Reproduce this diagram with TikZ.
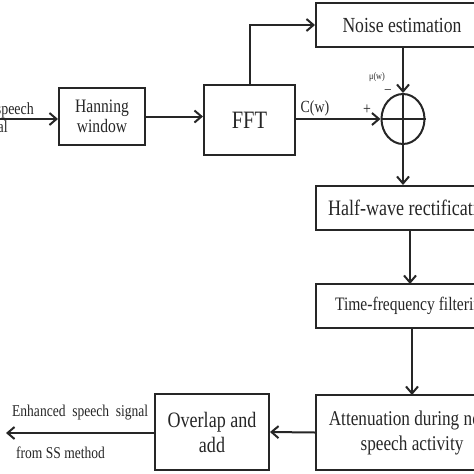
\documentclass[tikz,border=0pt]{standalone}
\usepackage{fontspec}
\setmainfont{Liberation Serif}[FakeStretch=0.82]
\usetikzlibrary{arrows.meta,shapes.geometric}
\begin{document}
\begin{tikzpicture}[x=1pt,y=-1pt,
  lw/.style={line width=2pt, draw=black!85},
  blk/.style={lw, inner sep=0pt, align=center, text=black!85},
  arr/.style={lw, -{Straight Barb[length=7pt,width=12pt]}},
  lab/.style={inner sep=0pt, text=black!85}]
\useasboundingbox (0,0) rectangle (474,474);
\clip (0,0) rectangle (474,474);
% blocks
\node[blk, minimum width=86pt, minimum height=57pt, font=\fontsize{19}{20}\selectfont] (hann) at (102,116.5) {Hanning\\window};
\node[blk, minimum width=91pt, minimum height=70pt, font=\fontsize{25}{26}\selectfont] (fft) at (249.5,120) {FFT};
\node[blk, minimum width=172pt, minimum height=44pt, font=\fontsize{21.5}{23}\selectfont] (noise) at (402,25) {Noise estimation};
\node[lw, ellipse, inner sep=0pt, minimum width=43pt, minimum height=50pt] (sum) at (403,119) {};
\node[blk, minimum width=192pt, minimum height=44pt, font=\fontsize{22}{23}\selectfont] (half) at (412,208) {Half-wave rectification};
\node[blk, minimum width=192pt, minimum height=44pt, font=\fontsize{19}{21}\selectfont] (tf) at (412,306) {Time-frequency filtering};
\node[blk, minimum width=192pt, minimum height=75pt, font=\fontsize{21}{25}\selectfont] (att) at (412,432.5) {Attenuation during non-\\speech activity};
\node[blk, minimum width=114pt, minimum height=76pt, font=\fontsize{22}{25}\selectfont] (ola) at (212,432) {Overlap and\\add};
% summing cross
\draw[lw] (sum.north) -- (sum.south);
\draw[lw] (sum.west) -- (sum.east);
% input / output
\coordinate (in) at (-2,119);
\coordinate (out) at (6,433);
\node[lab, anchor=east, font=\fontsize{17}{18}\selectfont] (intxt1) at (34,110) {Noisy speech};
\node[lab, anchor=east, font=\fontsize{17}{18}\selectfont] (intxt2) at (8,128) {signal};
\node[lab, anchor=west, font=\fontsize{16.5}{18}\selectfont] (outtxt1) at (12,413) {Enhanced\ \ speech\ \ signal};
\node[lab, anchor=west, font=\fontsize{16.5}{18}\selectfont] (outtxt2) at (16,453) {from SS method};
% connectors
\draw[arr] (in) -- (hann.west |- in);
\draw[arr] (hann.east) -- (fft.west |- hann.east);
\draw[arr] (fft.east |- sum.west) -- (sum.west);
\draw[arr] (fft.north) |- (noise.west);
\draw[arr] (sum.north |- noise.south) -- (sum.north);
\draw[arr] (sum.south) -- (sum.south |- half.north);
\draw[arr] (410,230) -- (410,284);
\draw[arr] (412,328) -- (412,395);
\draw[arr] (att.west) -- (ola.east);
\draw[arr] (ola.west |- out) -- (out);
% labels
\node[lab, font=\fontsize{17}{18}\selectfont] (cw) at (315,108) {C(w)};
\node[lab, font=\fontsize{17}{18}\selectfont] (plus) at (367,110) {+};
\node[lab, font=\fontsize{15}{16}\selectfont] (minus) at (388,92) {–};
\node[lab, font=\fontsize{10}{11}\selectfont] (mu) at (377,77) {μ(w)};
\end{tikzpicture}
\end{document}
